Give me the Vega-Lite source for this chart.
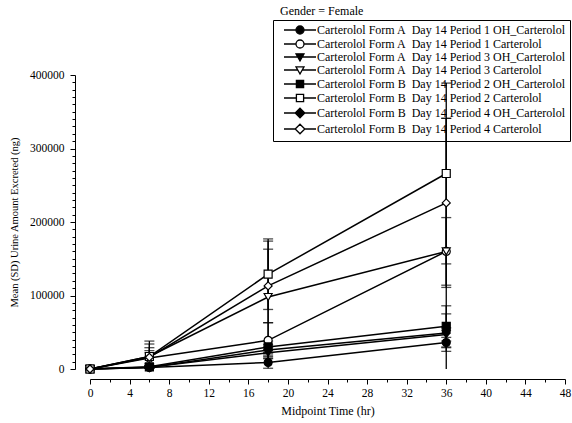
{
  "$schema": "https://vega.github.io/schema/vega-lite/v6.json",
  "width": 475,
  "height": 294,
  "autosize": "none",
  "padding": {"left": 90, "top": 75, "right": 7, "bottom": 54},
  "background": "white",
  "config": {"view": {"stroke": null}, "font": "Liberation Serif"},
  "title": {
    "text": "Gender = Female",
    "anchor": "start",
    "frame": "group",
    "dx": 190,
    "dy": 2,
    "font": "Liberation Serif",
    "fontSize": 12,
    "fontWeight": "normal",
    "color": "black"
  },
  "data": {
    "values": [
      {"s": "Carterolol Form A\u00a0 Day 14 Period 1 OH_Carterolol", "t": 0, "m": 0, "lo": null, "hi": null},
      {"s": "Carterolol Form A\u00a0 Day 14 Period 1 OH_Carterolol", "t": 6, "m": 2000, "lo": 500, "hi": 3500},
      {"s": "Carterolol Form A\u00a0 Day 14 Period 1 OH_Carterolol", "t": 18, "m": 9000, "lo": 1000, "hi": 17000},
      {"s": "Carterolol Form A\u00a0 Day 14 Period 1 OH_Carterolol", "t": 36, "m": 36000, "lo": 29000, "hi": 43000},
      {"s": "Carterolol Form A\u00a0 Day 14 Period 1 Carterolol", "t": 0, "m": 0, "lo": null, "hi": null},
      {"s": "Carterolol Form A\u00a0 Day 14 Period 1 Carterolol", "t": 6, "m": 15000, "lo": 5000, "hi": 25000},
      {"s": "Carterolol Form A\u00a0 Day 14 Period 1 Carterolol", "t": 18, "m": 39000, "lo": 15000, "hi": 63000},
      {"s": "Carterolol Form A\u00a0 Day 14 Period 1 Carterolol", "t": 36, "m": 160000, "lo": 114000, "hi": 206000},
      {"s": "Carterolol Form A\u00a0 Day 14 Period 3 OH_Carterolol", "t": 0, "m": 0, "lo": null, "hi": null},
      {"s": "Carterolol Form A\u00a0 Day 14 Period 3 OH_Carterolol", "t": 6, "m": 2500, "lo": 1000, "hi": 4000},
      {"s": "Carterolol Form A\u00a0 Day 14 Period 3 OH_Carterolol", "t": 18, "m": 22000, "lo": 14000, "hi": 30000},
      {"s": "Carterolol Form A\u00a0 Day 14 Period 3 OH_Carterolol", "t": 36, "m": 47000, "lo": 38000, "hi": 56000},
      {"s": "Carterolol Form A\u00a0 Day 14 Period 3 Carterolol", "t": 0, "m": 0, "lo": null, "hi": null},
      {"s": "Carterolol Form A\u00a0 Day 14 Period 3 Carterolol", "t": 6, "m": 17000, "lo": 5000, "hi": 29000},
      {"s": "Carterolol Form A\u00a0 Day 14 Period 3 Carterolol", "t": 18, "m": 98000, "lo": 22000, "hi": 174000},
      {"s": "Carterolol Form A\u00a0 Day 14 Period 3 Carterolol", "t": 36, "m": 160000, "lo": -21000, "hi": 341000},
      {"s": "Carterolol Form B\u00a0 Day 14 Period 2 OH_Carterolol", "t": 0, "m": 0, "lo": null, "hi": null},
      {"s": "Carterolol Form B\u00a0 Day 14 Period 2 OH_Carterolol", "t": 6, "m": 3000, "lo": 1500, "hi": 4500},
      {"s": "Carterolol Form B\u00a0 Day 14 Period 2 OH_Carterolol", "t": 18, "m": 30000, "lo": 22000, "hi": 38000},
      {"s": "Carterolol Form B\u00a0 Day 14 Period 2 OH_Carterolol", "t": 36, "m": 58000, "lo": 30000, "hi": 86000},
      {"s": "Carterolol Form B\u00a0 Day 14 Period 2 Carterolol", "t": 0, "m": 0, "lo": null, "hi": null},
      {"s": "Carterolol Form B\u00a0 Day 14 Period 2 Carterolol", "t": 6, "m": 17000, "lo": -4000, "hi": 38000},
      {"s": "Carterolol Form B\u00a0 Day 14 Period 2 Carterolol", "t": 18, "m": 129000, "lo": 81000, "hi": 177000},
      {"s": "Carterolol Form B\u00a0 Day 14 Period 2 Carterolol", "t": 36, "m": 266000, "lo": 143000, "hi": 389000},
      {"s": "Carterolol Form B\u00a0 Day 14 Period 4 OH_Carterolol", "t": 0, "m": 0, "lo": null, "hi": null},
      {"s": "Carterolol Form B\u00a0 Day 14 Period 4 OH_Carterolol", "t": 6, "m": 2000, "lo": 500, "hi": 3500},
      {"s": "Carterolol Form B\u00a0 Day 14 Period 4 OH_Carterolol", "t": 18, "m": 26000, "lo": 19000, "hi": 33000},
      {"s": "Carterolol Form B\u00a0 Day 14 Period 4 OH_Carterolol", "t": 36, "m": 49000, "lo": 24000, "hi": 75000},
      {"s": "Carterolol Form B\u00a0 Day 14 Period 4 Carterolol", "t": 0, "m": 0, "lo": null, "hi": null},
      {"s": "Carterolol Form B\u00a0 Day 14 Period 4 Carterolol", "t": 6, "m": 16000, "lo": -2000, "hi": 34000},
      {"s": "Carterolol Form B\u00a0 Day 14 Period 4 Carterolol", "t": 18, "m": 113000, "lo": 63000, "hi": 163000},
      {"s": "Carterolol Form B\u00a0 Day 14 Period 4 Carterolol", "t": 36, "m": 226000, "lo": 111000, "hi": 341000}
    ]
  },
  "layer": [
    {
      "mark": {"type": "rule", "color": "black", "strokeWidth": 1.3, "clip": true},
      "encoding": {
        "x": {
          "field": "t",
          "type": "quantitative",
          "scale": {"domain": [0, 48], "nice": false},
          "axis": {
            "orient": "bottom",
            "values": [2, 6, 10, 14, 18, 22, 26, 30, 34, 38, 42, 46],
            "labels": false,
            "domain": false,
            "grid": false,
            "title": null,
            "tickSize": 3,
            "tickColor": "black",
            "offset": 10
          }
        },
        "y": {
          "field": "lo",
          "type": "quantitative",
          "scale": {"domain": [0, 400000], "nice": false},
          "axis": {
            "orient": "left",
            "values": [10000, 20000, 30000, 40000, 50000, 60000, 70000, 80000, 90000, 110000, 120000, 130000, 140000, 150000, 160000, 170000, 180000, 190000, 210000, 220000, 230000, 240000, 250000, 260000, 270000, 280000, 290000, 310000, 320000, 330000, 340000, 350000, 360000, 370000, 380000, 390000],
            "labels": false,
            "domain": false,
            "grid": false,
            "title": null,
            "tickSize": 3,
            "tickColor": "black",
            "offset": 15
          }
        },
        "y2": {"field": "hi"},
        "detail": {"field": "s", "type": "nominal"}
      }
    },
    {
      "mark": {"type": "tick", "orient": "horizontal", "color": "black", "size": 10, "thickness": 1.3, "clip": true},
      "encoding": {
        "x": {"field": "t", "type": "quantitative", "scale": {"domain": [0, 48], "nice": false}, "axis": null},
        "y": {"field": "hi", "type": "quantitative", "scale": {"domain": [0, 400000], "nice": false}, "axis": null},
        "detail": {"field": "s", "type": "nominal"}
      }
    },
    {
      "mark": {"type": "tick", "orient": "horizontal", "color": "black", "size": 10, "thickness": 1.3, "clip": true},
      "encoding": {
        "x": {"field": "t", "type": "quantitative", "scale": {"domain": [0, 48], "nice": false}, "axis": null},
        "y": {"field": "lo", "type": "quantitative", "scale": {"domain": [0, 400000], "nice": false}, "axis": null},
        "detail": {"field": "s", "type": "nominal"}
      }
    },
    {
      "mark": {"type": "line", "color": "black", "strokeWidth": 1.5},
      "encoding": {
        "x": {
          "field": "t",
          "type": "quantitative",
          "scale": {"domain": [0, 48], "nice": false},
          "axis": {
            "orient": "bottom",
            "title": "Midpoint Time (hr)",
            "values": [0, 4, 8, 12, 16, 20, 24, 28, 32, 36, 40, 44, 48],
            "tickSize": 5,
            "offset": 10,
            "grid": false,
            "labelFlush": false,
            "labelOverlap": false,
            "labelFont": "Liberation Serif",
            "labelFontSize": 11.5,
            "labelColor": "black",
            "labelPadding": 3,
            "tickColor": "black",
            "domainColor": "black",
            "titleFont": "Liberation Serif",
            "titleFontSize": 12,
            "titleFontWeight": "normal",
            "titleColor": "black",
            "titlePadding": 7
          }
        },
        "y": {
          "field": "m",
          "type": "quantitative",
          "scale": {"domain": [0, 400000], "nice": false},
          "axis": {
            "orient": "left",
            "title": "Mean (SD) Urine Amount Excreted (ng)",
            "values": [0, 100000, 200000, 300000, 400000],
            "format": "d",
            "tickSize": 5,
            "offset": 15,
            "grid": false,
            "labelOverlap": false,
            "labelFont": "Liberation Serif",
            "labelFontSize": 11.5,
            "labelColor": "black",
            "labelPadding": 6,
            "tickColor": "black",
            "domainColor": "black",
            "titleFont": "Liberation Serif",
            "titleFontSize": 10.5,
            "titleFontWeight": "normal",
            "titleColor": "black",
            "titlePadding": 10
          }
        },
        "detail": {"field": "s", "type": "nominal"}
      }
    },
    {
      "mark": {"type": "point", "stroke": "black", "strokeWidth": 1.2, "size": 64, "opacity": 1},
      "encoding": {
        "x": {"field": "t", "type": "quantitative", "scale": {"domain": [0, 48], "nice": false}, "axis": null},
        "y": {"field": "m", "type": "quantitative", "scale": {"domain": [0, 400000], "nice": false}, "axis": null},
        "shape": {
          "field": "s",
          "type": "nominal",
          "scale": {
            "domain": [
              "Carterolol Form A\u00a0 Day 14 Period 1 OH_Carterolol",
              "Carterolol Form A\u00a0 Day 14 Period 1 Carterolol",
              "Carterolol Form A\u00a0 Day 14 Period 3 OH_Carterolol",
              "Carterolol Form A\u00a0 Day 14 Period 3 Carterolol",
              "Carterolol Form B\u00a0 Day 14 Period 2 OH_Carterolol",
              "Carterolol Form B\u00a0 Day 14 Period 2 Carterolol",
              "Carterolol Form B\u00a0 Day 14 Period 4 OH_Carterolol",
              "Carterolol Form B\u00a0 Day 14 Period 4 Carterolol"
            ],
            "range": ["circle", "circle", "triangle-down", "triangle-down", "square", "square", "diamond", "diamond"]
          },
          "legend": null
        },
        "fill": {
          "field": "s",
          "type": "nominal",
          "scale": {
            "domain": [
              "Carterolol Form A\u00a0 Day 14 Period 1 OH_Carterolol",
              "Carterolol Form A\u00a0 Day 14 Period 1 Carterolol",
              "Carterolol Form A\u00a0 Day 14 Period 3 OH_Carterolol",
              "Carterolol Form A\u00a0 Day 14 Period 3 Carterolol",
              "Carterolol Form B\u00a0 Day 14 Period 2 OH_Carterolol",
              "Carterolol Form B\u00a0 Day 14 Period 2 Carterolol",
              "Carterolol Form B\u00a0 Day 14 Period 4 OH_Carterolol",
              "Carterolol Form B\u00a0 Day 14 Period 4 Carterolol"
            ],
            "range": ["black", "white", "black", "white", "black", "white", "black", "white"]
          },
          "legend": null
        }
      }
    },
    {
      "mark": {"type": "point", "stroke": "black", "opacity": 0},
      "encoding": {
        "x": {"field": "t", "type": "quantitative", "scale": {"domain": [0, 48], "nice": false}, "axis": null},
        "y": {"field": "m", "type": "quantitative", "scale": {"domain": [0, 400000], "nice": false}, "axis": null},
        "shape": {
          "field": "s",
          "type": "nominal",
          "title": null,
          "scale": {
            "domain": [
              "Carterolol Form A\u00a0 Day 14 Period 1 OH_Carterolol",
              "Carterolol Form A\u00a0 Day 14 Period 1 Carterolol",
              "Carterolol Form A\u00a0 Day 14 Period 3 OH_Carterolol",
              "Carterolol Form A\u00a0 Day 14 Period 3 Carterolol",
              "Carterolol Form B\u00a0 Day 14 Period 2 OH_Carterolol",
              "Carterolol Form B\u00a0 Day 14 Period 2 Carterolol",
              "Carterolol Form B\u00a0 Day 14 Period 4 OH_Carterolol",
              "Carterolol Form B\u00a0 Day 14 Period 4 Carterolol"
            ],
            "range": [
              "M-4,0H-1M1,0H4M-1,0A1,1,0,1,0,1,0A1,1,0,1,0,-1,0Z",
              "M-4,0H-1M1,0H4M-1,0A1,1,0,1,0,1,0A1,1,0,1,0,-1,0Z",
              "M-4,0H-0.55M0.55,0H4M-1,-0.8H1L0,1Z",
              "M-4,0H-0.55M0.55,0H4M-1,-0.8H1L0,1Z",
              "M-4,0H-0.9M0.9,0H4M-0.9,-0.9H0.9V0.9H-0.9Z",
              "M-4,0H-0.9M0.9,0H4M-0.9,-0.9H0.9V0.9H-0.9Z",
              "M-4,0H-1.2M1.2,0H4M-1.2,0L0,-1.2L1.2,0L0,1.2Z",
              "M-4,0H-1.2M1.2,0H4M-1.2,0L0,-1.2L1.2,0L0,1.2Z"
            ]
          },
          "legend": {
            "orient": "none",
            "legendX": 183,
            "legendY": -55,
            "strokeColor": "black",
            "padding": 4,
            "rowPadding": 0,
            "symbolSize": 64,
            "symbolStrokeColor": "black",
            "symbolStrokeWidth": 1.3,
            "symbolOpacity": 1,
            "symbolOffset": 17,
            "labelOffset": 11,
            "labelFont": "Liberation Serif",
            "labelFontSize": 12,
            "labelColor": "black",
            "labelLimit": 400,
            "encode": {"symbols": {"update": {"stroke": {"value": "black"}, "strokeWidth": {"value": 1.3}, "strokeOpacity": {"value": 1}}}}
          }
        },
        "fill": {
          "field": "s",
          "type": "nominal",
          "title": null,
          "scale": {
            "domain": [
              "Carterolol Form A\u00a0 Day 14 Period 1 OH_Carterolol",
              "Carterolol Form A\u00a0 Day 14 Period 1 Carterolol",
              "Carterolol Form A\u00a0 Day 14 Period 3 OH_Carterolol",
              "Carterolol Form A\u00a0 Day 14 Period 3 Carterolol",
              "Carterolol Form B\u00a0 Day 14 Period 2 OH_Carterolol",
              "Carterolol Form B\u00a0 Day 14 Period 2 Carterolol",
              "Carterolol Form B\u00a0 Day 14 Period 4 OH_Carterolol",
              "Carterolol Form B\u00a0 Day 14 Period 4 Carterolol"
            ],
            "range": ["black", "white", "black", "white", "black", "white", "black", "white"]
          },
          "legend": {
            "orient": "none",
            "legendX": 183,
            "legendY": -55,
            "strokeColor": "black",
            "padding": 4,
            "rowPadding": 0,
            "symbolSize": 64,
            "symbolStrokeColor": "black",
            "symbolStrokeWidth": 1.3,
            "symbolOpacity": 1,
            "symbolOffset": 17,
            "labelOffset": 11,
            "labelFont": "Liberation Serif",
            "labelFontSize": 12,
            "labelColor": "black",
            "labelLimit": 400,
            "encode": {"symbols": {"update": {"stroke": {"value": "black"}, "strokeWidth": {"value": 1.3}, "strokeOpacity": {"value": 1}}}}
          }
        }
      }
    }
  ],
  "resolve": {
    "scale": {"shape": "independent", "fill": "independent"},
    "axis": {"x": "independent", "y": "independent"}
  }
}
